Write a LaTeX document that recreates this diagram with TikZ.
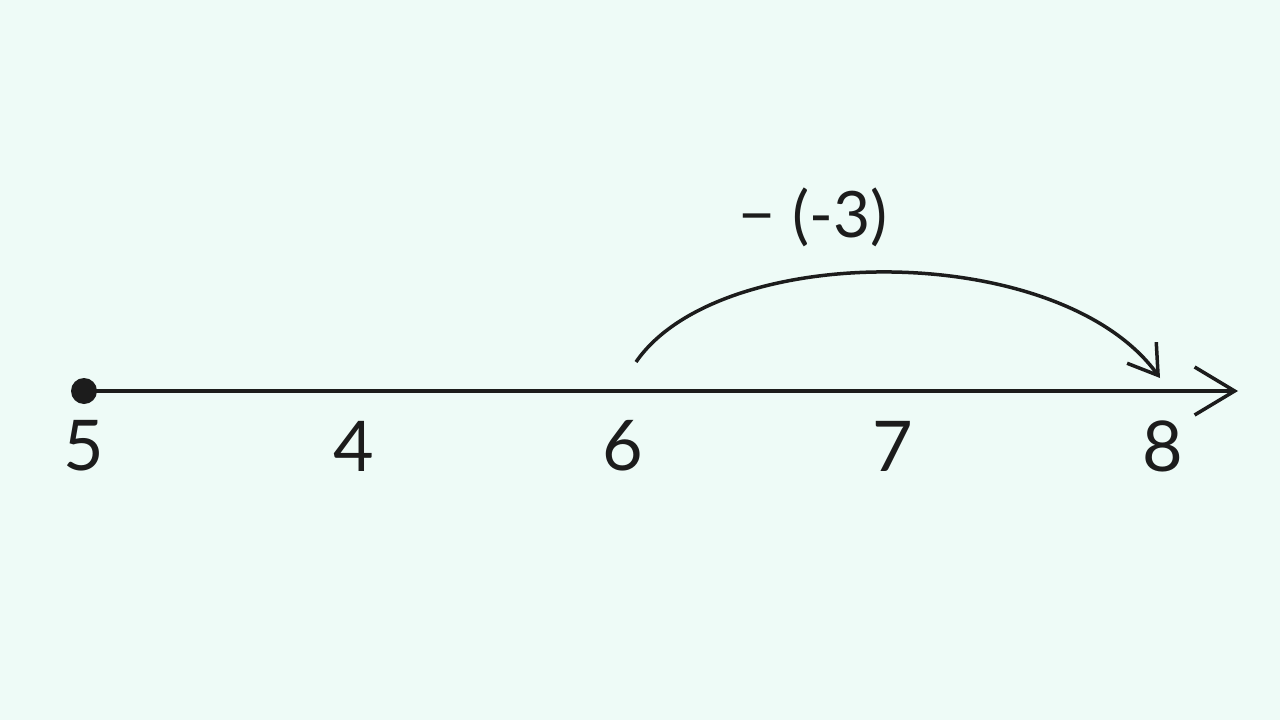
\documentclass[tikz,border=0pt]{standalone}
\usepackage{fontspec}
\setmainfont{Lato}
\usetikzlibrary{arrows.meta}
\definecolor{bgmint}{RGB}{238,251,247}
\definecolor{inkdark}{RGB}{28,28,28}
\tikzset{every picture/.style={line width=0.75pt}}
\tikzset{
  numlbl/.style={text=inkdark,font=\fontsize{70}{70}\selectfont,inner sep=0pt,anchor=center},
  jumplbl/.style={text=inkdark,font=\fontsize{64}{64}\selectfont,inner sep=0pt,anchor=center}
}

\begin{document}
\begin{tikzpicture}[x=1pt,y=1pt,yscale=-1,xscale=1]
%background, sets diagram size 1280 x 720
\fill [bgmint] (0,0) rectangle (1280,720);
\useasboundingbox (0,0) rectangle (1280,720);

%Start dot [id:dot5]
\node (dot) [circle,fill=inkdark,inner sep=0pt,minimum size=26pt] at (84,391) {};
%Axis end
\coordinate (axend) at (1238,391);
%Straight Lines [id:axis]
\draw [inkdark,line width=3.5pt,-{Straight Barb[length=40pt,width=48pt,line width=3.5pt]}] (dot.center) -- (axend) ;

% Text Node
\node (n5) [numlbl] at (84,446) {5};
% Text Node
\node (n4) [numlbl] at (354,446) {4};
% Text Node
\node (n6) [numlbl] at (623,446) {6};
% Text Node
\node (n7) [numlbl] at (893,446) {7};
% Text Node
\node (n8) [numlbl] at (1163,446) {8};

%Curve Lines [id:jump]
\coordinate (jstart) at (636,362);
\coordinate (jend) at (1160,378);
\draw [inkdark,line width=3.5pt,-{Straight Barb[length=28pt,width=36pt,line width=3.5pt]}] (jstart) .. controls (720,240) and (1060,240) .. (jend) ;

% Text Node
\node (jmp) [jumplbl] at (813,217) {− (-3)};

\end{tikzpicture}
\end{document}
